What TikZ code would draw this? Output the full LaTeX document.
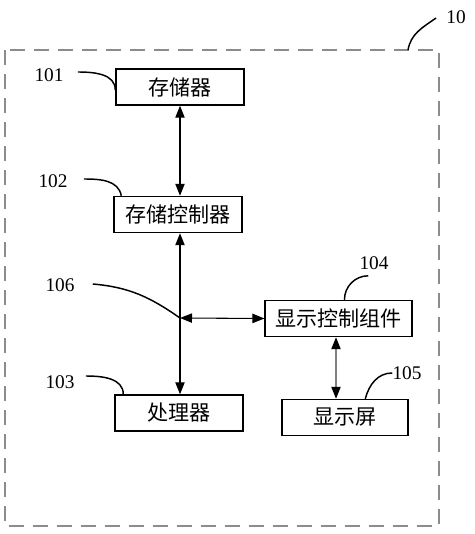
\documentclass[tikz,border=0pt]{standalone}
\usepackage{fontspec}
\setmainfont{Liberation Serif}
\newfontfamily\cjk{Noto Sans CJK SC}
\usetikzlibrary{arrows.meta,calc}

\begin{document}
\begin{tikzpicture}[
x=0.75pt, y=-0.75pt,
>={Triangle[length=9pt,width=7pt,color=black]},
box/.style={draw, line width=1.1pt, inner sep=0pt, minimum height=27pt, font=\cjk\fontsize{15.8}{17}\selectfont},
num/.style={inner sep=0pt, font=\fontsize{14.5}{16}\selectfont},
lead/.style={line width=1.1pt},
link/.style={line width=0.8pt},
frame/.style={draw=black!45, line width=1pt, dash pattern=on 11pt off 7pt}]

\useasboundingbox (0,0) rectangle (474,534);
\draw[frame] (5,50) rectangle (439,526);
\coordinate (fr) at (439,50);

% blocks
\node[box, minimum width=96pt] (mem) at (180,87) {存储器};
\node[box, minimum width=96pt] (memctl) at (178,214.5) {存储控制器};
\node[box, minimum width=96pt] (cpu) at (179,413) {处理器};
\node[box, minimum width=110pt] (dispctl) at (338.5,318.5) {显示控制组件};
\node[box, minimum width=94.5pt] (screen) at (345,417.5) {显示屏};
\coordinate (bus) at (180,318);

% reference numbers
\node[num] (l10) at (456,17) {10};
\node[num] (l101) at (49,75) {101};
\node[num] (l102) at (53,181) {102};
\node[num] (l106) at (60,285) {106};
\node[num] (l103) at (60,382) {103};
\node[num] (l104) at (374,263) {104};
\node[num] (l105) at (407,373) {105};

\draw[lead] ($(fr)+(-31,0)$) to[out=80,in=215] ($(l10.west)+(-10,1)$);
\draw[lead] ($(l101.east)+(14,-3)$) to[out=0,in=90] ($(mem.west)+(0,3)$);
\draw[lead] ($(l102.east)+(16,-2)$) to[out=0,in=100] ($(memctl.north west)+(8,0)$);
\draw[lead] ($(l106.east)+(18,-1)$) to[out=-5,in=145] (bus);
\draw[lead] ($(l103.east)+(11,-6)$) to[out=0,in=90] ($(cpu.north west)+(9,0)$);
\draw[lead] ($(dispctl.north west)+(80,0)$) to[out=90,in=180] ($(l104.south west)+(9,6)$);
\draw[lead] ($(screen.north west)+(84,0)$) to[out=75,in=180] (l105.west);

% connections
\draw[link,<->] (mem.south -| bus) -- (memctl.north -| bus);
\draw[link,->] (bus) -- (memctl.south -| bus);
\draw[link,->] (bus) -- (cpu.north -| bus);
\draw[link,<->] (bus) -- (dispctl.west);
\draw[link,<->,draw=black!50] ($(dispctl.south)+(-2.5,0)$) coordinate (d1) -- (d1 |- screen.north);
\end{tikzpicture}
\end{document}
